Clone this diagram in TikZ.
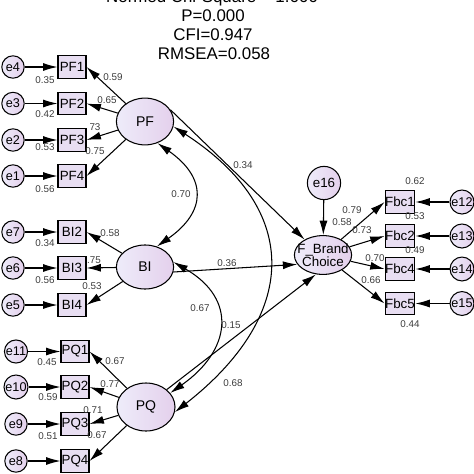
\documentclass[tikz,border=0pt]{standalone}
\usepackage{fontspec}
\setmainfont{Liberation Sans}
\usetikzlibrary{shapes.geometric,arrows.meta}
\definecolor{lavlight}{RGB}{238,236,250}
\definecolor{lavdark}{RGB}{228,208,236}
\definecolor{boxfill}{RGB}{232,222,242}
\definecolor{numgray}{RGB}{60,60,60}

\begin{document}
\begin{tikzpicture}[x=0.025cm, y=0.025cm, line width=0.75pt,
        >={Latex[length=3.6mm,width=2mm]},
        latent/.style={ellipse, draw, left color=lavlight, right color=lavdark, minimum width=1.43cm, minimum height=1.17cm, inner sep=0pt, font=\fontsize{10}{11}\selectfont},
        item/.style={rectangle, draw, fill=boxfill, minimum width=0.7cm, minimum height=0.57cm, inner sep=0pt, font=\fontsize{9.5}{10}\selectfont},
        err/.style={circle, draw, left color=lavlight, right color=lavdark, minimum size=0.56cm, inner sep=0.3pt, font=\fontsize{9}{10}\selectfont},
        coef/.style={inner sep=0pt, text=numgray, font=\fontsize{7}{8}\selectfont},
        fitline/.style={anchor=base, font=\fontsize{12}{13}\selectfont}]
            \useasboundingbox (0,0) rectangle (474,-474);

            \node[fitline] (chi) at (212,-2) {Normed Chi-Square = 1.666};
            \node[fitline] (pval) at (213,-21.5) {P=0.000};
            \node[fitline] (cfi) at (213,-40.5) {CFI=0.947};
            \node[fitline] (rmsea) at (214,-59) {RMSEA=0.058};

            \node[latent] (PF) at (145,-121.5) {PF};
            \node[latent, minimum height=1.1cm] (BI) at (145,-267) {BI};
            \node[latent, minimum width=1.45cm, minimum height=1.2cm] (PQ) at (146,-407) {PQ};
            \node[latent, minimum height=0.97cm, inner xsep=-5pt, inner ysep=-1pt, align=center, font=\fontsize{9.5}{9.5}\selectfont] (FBC) at (323,-255) {F\_Brand\\Choice};
            \node[err, minimum size=0.83cm, font=\fontsize{9.5}{10}\selectfont] (e16) at (324,-183) {e16};

            \node[item] (PF1) at (72,-67) {PF1};
            \node[item] (PF2) at (72,-103.5) {PF2};
            \node[item] (PF3) at (72,-140) {PF3};
            \node[item] (PF4) at (72,-176) {PF4};
            \node[item] (BI2) at (72,-232) {BI2};
            \node[item] (BI3) at (72,-268) {BI3};
            \node[item] (BI4) at (72,-305) {BI4};
            \node[item] (PQ1) at (75,-351.5) {PQ1};
            \node[item] (PQ2) at (75,-387) {PQ2};
            \node[item] (PQ3) at (75,-424) {PQ3};
            \node[item] (PQ4) at (75,-461) {PQ4};

            \node[err] (e4) at (13,-67) {e4};
            \node[err] (e3) at (13,-103.5) {e3};
            \node[err] (e2) at (13,-140) {e2};
            \node[err] (e1) at (13,-176) {e1};
            \node[err] (e7) at (13,-232) {e7};
            \node[err] (e6) at (13,-268) {e6};
            \node[err] (e5) at (13,-305) {e5};
            \node[err] (e11) at (16,-351.5) {e11};
            \node[err] (e10) at (16,-387) {e10};
            \node[err] (e9) at (16,-424) {e9};
            \node[err] (e8) at (16,-461) {e8};

            \node[item, minimum width=0.72cm, minimum height=0.56cm] (Fbc1) at (400,-202) {Fbc1};
            \node[item, minimum width=0.72cm, minimum height=0.56cm] (Fbc2) at (400,-236) {Fbc2};
            \node[item, minimum width=0.72cm, minimum height=0.56cm] (Fbc4) at (400,-269) {Fbc4};
            \node[item, minimum width=0.72cm, minimum height=0.56cm] (Fbc5) at (400,-303.5) {Fbc5};
            \node[err] (e12) at (462,-202) {e12};
            \node[err] (e13) at (462,-236) {e13};
            \node[err] (e14) at (462,-269) {e14};
            \node[err] (e15) at (462,-303.5) {e15};

            \draw[->] (e4) -- (PF1);
            \draw[->] (e3) -- (PF2);
            \draw[->] (e2) -- (PF3);
            \draw[->] (e1) -- (PF4);
            \draw[->] (e7) -- (BI2);
            \draw[->] (e6) -- (BI3);
            \draw[->] (e5) -- (BI4);
            \draw[->] (e11) -- (PQ1);
            \draw[->] (e10) -- (PQ2);
            \draw[->] (e9) -- (PQ3);
            \draw[->] (e8) -- (PQ4);

            \draw[->] (PF) -- (PF1.east);
            \draw[->] (PF) -- (PF2.east);
            \draw[->] (PF) -- (PF3.east);
            \draw[->] (PF) -- (PF4.east);
            \draw[->] (BI) -- (BI2.east);
            \draw[->] (BI) -- (BI3.east);
            \draw[->] (BI) -- (BI4.east);
            \draw[->] (PQ) -- (PQ1.east);
            \draw[->] (PQ) -- (PQ2.east);
            \draw[->] (PQ) -- (PQ3.east);
            \draw[->] (PQ) -- (PQ4.east);

            \draw[->] (e16) -- (FBC);
            \draw[->] (FBC) -- (Fbc1.west);
            \draw[->] (FBC) -- (Fbc2.west);
            \draw[->] (FBC) -- (Fbc4.west);
            \draw[->] (FBC) -- (Fbc5.west);
            \draw[->] (e12) -- (Fbc1);
            \draw[->] (e13) -- (Fbc2);
            \draw[->] (e14) -- (Fbc4);
            \draw[->] (e15) -- (Fbc5);

            \draw[->] (PF.25) -- (FBC.140);
            \draw[->] (BI.-10) -- (FBC.200);
            \draw[->] (PQ.40) -- (FBC.250);

            \draw[<->] (PF.-60) to[out=-35, in=35, looseness=1.5] (BI.60);
            \draw[<->] (BI.10) to[out=-30, in=35, looseness=1.45] (PQ.30);
            \draw[<->] (PF.-10) to[out=-33, in=38, looseness=1.39] (PQ.-10);

            \node[coef] (lpf1) at (113,-77) {0.59};
            \node[coef] (lpf2) at (107,-100) {0.65};
            \node[coef] (lpf3) at (95,-127) {73};
            \node[coef] (lpf4) at (95,-151) {0.75};
            \node[coef] (re4) at (45,-80) {0.35};
            \node[coef] (re3) at (45,-114) {0.42};
            \node[coef] (re2) at (45,-147) {0.53};
            \node[coef] (re1) at (45,-189) {0.56};

            \node[coef] (lbi2) at (110,-233) {0.58};
            \node[coef] (lbi3) at (94,-260) {.75};
            \node[coef] (lbi4) at (92,-286) {0.53};
            \node[coef] (re7) at (45,-243) {0.34};
            \node[coef] (re6) at (45,-280) {0.56};

            \node[coef] (lpq1) at (115,-361) {0.67};
            \node[coef] (lpq2) at (110,-384) {0.77};
            \node[coef] (lpq3) at (93,-410) {0.71};
            \node[coef] (lpq4) at (97,-435) {0.67};
            \node[coef] (re11) at (47,-362) {0.45};
            \node[coef] (re10) at (48,-397) {0.59};
            \node[coef] (re9) at (48,-436) {0.51};

            \node[coef] (rfbc1) at (415,-181) {0.62};
            \node[coef] (rfbc2) at (415,-216) {0.53};
            \node[coef] (rfbc4) at (415,-250) {0.49};
            \node[coef] (rfbc5) at (410,-324) {0.44};
            \node[coef] (lfbc1) at (352,-210) {0.79};
            \node[coef] (rfbc) at (342,-222) {0.58};
            \node[coef] (lfbc2) at (362,-230) {0.73};
            \node[coef] (lfbc4) at (375,-258) {0.70};
            \node[coef] (lfbc5) at (371,-280) {0.66};

            \node[coef] (bpf) at (243,-165) {0.34};
            \node[coef] (bbi) at (227,-263) {0.36};
            \node[coef] (bpq) at (231,-325) {0.15};
            \node[coef] (cpfbi) at (181,-194) {0.70};
            \node[coef] (cbipq) at (200,-308) {0.67};
            \node[coef] (cpfpq) at (233,-383) {0.68};
        \end{tikzpicture}
\end{document}
